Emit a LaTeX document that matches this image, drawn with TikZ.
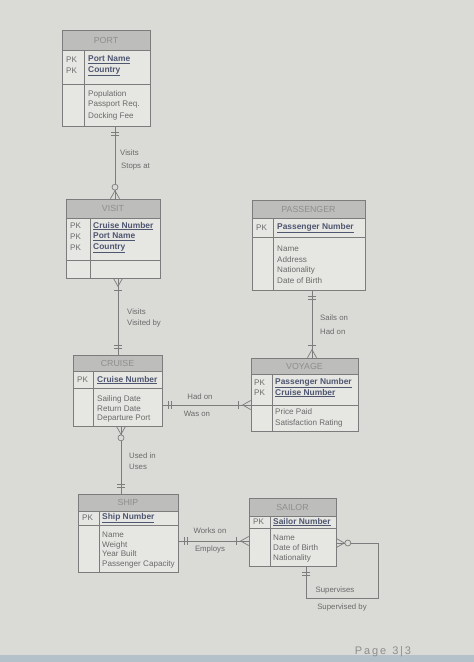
\documentclass[tikz,border=0pt]{standalone}
\usepackage{fontspec}
\setmainfont{Liberation Sans}
\usetikzlibrary{fit}
\definecolor{bg}{HTML}{DADAD7}
\definecolor{bodyfill}{HTML}{E6E6E3}
\definecolor{headfill}{HTML}{BDBDBB}
\definecolor{linecol}{HTML}{7C7C7C}
\definecolor{txtcol}{HTML}{6A6A6A}
\definecolor{pkcol}{HTML}{4E5670}
\definecolor{titlecol}{HTML}{8E8E8E}
\definecolor{strip}{HTML}{B4C0CA}
\tikzset{
  eline/.style={draw=linecol, line width=0.6pt},
  ebox/.style={draw=linecol, line width=0.7pt, inner sep=0pt},
  rel/.style={draw=linecol, line width=0.7pt},
  title/.style={text=titlecol, font=\fontsize{8.8}{10}\selectfont, inner sep=0pt},
  txt/.style={text=txtcol, font=\fontsize{8.1}{10}\selectfont, anchor=west, inner sep=0pt},
  pk/.style={text=pkcol, font=\fontsize{8.4}{10}\selectfont\bfseries, anchor=west, inner sep=0pt},
  lbl/.style={text=txtcol, font=\fontsize{7.8}{9}\selectfont, inner sep=0pt},
  dbar/.pic={\draw[rel] (6,-4)--(6,4) (9,-4)--(9,4);},
  mbar/.pic={\draw[rel] (12,-4)--(12,4);},
  crow/.pic={\draw[rel] (0,-4.5)--(8,0)--(0,4.5);},
  ocirc/.pic={\draw[rel,fill=bg] (11.5,0) circle[radius=3];},
}
\newcommand\ent[9]{%
  \fill[bodyfill] (#2,#3) rectangle (#4,#5);
  \fill[headfill] (#2,#3) rectangle (#4,#6);
  \draw[eline] (#2,#6) -- (#4,#6) (#2,#7) -- (#4,#7) (#8,#6) -- (#8,#5);
  \node[ebox, fit={(#2,#3) (#4,#5)}] (#1) {};
  \node[title] (#1-t) at ({(#2+#4)/2},{(#3+#6)/2}) {#9};
}
\begin{document}
\begin{tikzpicture}[x=1pt,y=-1pt]
\fill[bg] (0,0) rectangle (474,662);
\fill[strip] (0,655) rectangle (474,662);
\useasboundingbox (0,0) rectangle (474,662);

% PORT
\ent{port}{62}{30}{150}{126}{50}{84}{84}{PORT}
\node[txt] (port-k1) at (66,60) {PK};
\node[txt] (port-k2) at (66,71) {PK};
\node[pk] (port-p1) at (88,60) {\underline{Port Name}};
\node[pk] (port-p2) at (88,71) {\underline{Country}};
\node[txt] (port-a1) at (88,94) {Population};
\node[txt] (port-a2) at (88,105) {Passport Req.};
\node[txt] (port-a3) at (88,116) {Docking Fee};

% VISIT
\ent{visit}{66}{199}{160}{278}{218}{260}{90}{VISIT}
\node[txt] (visit-k1) at (70,226) {PK};
\node[txt] (visit-k2) at (70,237) {PK};
\node[txt] (visit-k3) at (70,248) {PK};
\node[pk] (visit-p1) at (93,226) {\underline{Cruise Number}};
\node[pk] (visit-p2) at (93,237) {\underline{Port Name}};
\node[pk] (visit-p3) at (93,248) {\underline{Country}};

% PASSENGER
\ent{pass}{252}{200}{365}{290}{218}{237}{273}{PASSENGER}
\node[txt] (pass-k1) at (256,228) {PK};
\node[pk] (pass-p1) at (277,228) {\underline{Passenger Number}};
\node[txt] (pass-a1) at (277,249) {Name};
\node[txt] (pass-a2) at (277,260) {Address};
\node[txt] (pass-a3) at (277,270) {Nationality};
\node[txt] (pass-a4) at (277,281) {Date of Birth};

% CRUISE
\ent{cruise}{73}{355}{162}{426}{371}{388}{93}{CRUISE}
\node[txt] (cruise-k1) at (77,380) {PK};
\node[pk] (cruise-p1) at (97,380) {\underline{Cruise Number}};
\node[txt] (cruise-a1) at (97,399) {Sailing Date};
\node[txt] (cruise-a2) at (97,409) {Return Date};
\node[txt] (cruise-a3) at (97,419) {Departure Port};

% VOYAGE
\ent{voyage}{251}{358}{358}{431}{374}{405}{272}{VOYAGE}
\node[txt] (voy-k1) at (254,383) {PK};
\node[txt] (voy-k2) at (254,393) {PK};
\node[pk] (voy-p1) at (275,383) {\underline{Passenger Number}};
\node[pk] (voy-p2) at (275,393) {\underline{Cruise Number}};
\node[txt] (voy-a1) at (275,412) {Price Paid};
\node[txt] (voy-a2) at (275,423) {Satisfaction Rating};

% SHIP
\ent{ship}{78}{494}{178}{572}{511}{525}{99}{SHIP}
\node[txt] (ship-k1) at (82,518) {PK};
\node[pk] (ship-p1) at (102,518) {\underline{Ship Number}};
\node[txt] (ship-a1) at (102,535) {Name};
\node[txt] (ship-a2) at (102,545) {Weight};
\node[txt] (ship-a3) at (102,554) {Year Built};
\node[txt] (ship-a4) at (102,564) {Passenger Capacity};

% SAILOR
\ent{sailor}{249}{498}{336}{566}{516}{528}{270}{SAILOR}
\node[txt] (sail-k1) at (253,522) {PK};
\node[pk] (sail-p1) at (273,522) {\underline{Sailor Number}};
\node[txt] (sail-a1) at (273,538) {Name};
\node[txt] (sail-a2) at (273,548) {Date of Birth};
\node[txt] (sail-a3) at (273,558) {Nationality};

% connector positions
\coordinate (c1) at (115,0);
\coordinate (c2) at (118,0);
\coordinate (c3) at (312,0);
\coordinate (h4) at (0,405);
\coordinate (c5) at (121,0);
\coordinate (h6) at (0,541);
\coordinate (h7) at (0,543);
\coordinate (c7) at (306,0);
\coordinate (s1) at (378,543);
\coordinate (s2) at (378,598);
\coordinate (s3) at (306,598);

% PORT - VISIT
\draw[rel] (port.south -| c1) -- (visit.north -| c1);
\pic[rotate=-90] at (port.south -| c1) {dbar};
\pic[rotate=90] at (visit.north -| c1) {crow};
\pic[rotate=90] at (visit.north -| c1) {ocirc};
\node[lbl, anchor=west] (l1a) at (120,153) {Visits};
\node[lbl, anchor=west] (l1b) at (121,167) {Stops at};

% VISIT - CRUISE
\draw[rel] (visit.south -| c2) -- (cruise.north -| c2);
\pic[rotate=-90] at (visit.south -| c2) {crow};
\pic[rotate=-90] at (visit.south -| c2) {mbar};
\pic[rotate=90] at (cruise.north -| c2) {dbar};
\node[lbl, anchor=west] (l2a) at (127,312) {Visits};
\node[lbl, anchor=west] (l2b) at (127,323) {Visited by};

% PASSENGER - VOYAGE
\draw[rel] (pass.south -| c3) -- (voyage.north -| c3);
\pic[rotate=-90] at (pass.south -| c3) {dbar};
\pic[rotate=90] at (voyage.north -| c3) {crow};
\pic[rotate=90] at (voyage.north -| c3) {mbar};
\node[lbl, anchor=west] (l3a) at (320,318) {Sails on};
\node[lbl, anchor=west] (l3b) at (320,332) {Had on};

% CRUISE - VOYAGE
\draw[rel] (cruise.east |- h4) -- (voyage.west |- h4);
\pic[rotate=0] at (cruise.east |- h4) {dbar};
\pic[rotate=180] at (voyage.west |- h4) {crow};
\pic[rotate=180] at (voyage.west |- h4) {mbar};
\node[lbl] (l4a) at (200,397) {Had on};
\node[lbl] (l4b) at (197,414) {Was on};

% CRUISE - SHIP
\draw[rel] (cruise.south -| c5) -- (ship.north -| c5);
\pic[rotate=-90] at (cruise.south -| c5) {crow};
\pic[rotate=-90] at (cruise.south -| c5) {ocirc};
\pic[rotate=90] at (ship.north -| c5) {dbar};
\node[lbl, anchor=west] (l5a) at (129,456) {Used in};
\node[lbl, anchor=west] (l5b) at (129,467) {Uses};

% SHIP - SAILOR
\draw[rel] (ship.east |- h6) -- (sailor.west |- h6);
\pic[rotate=0] at (ship.east |- h6) {dbar};
\pic[rotate=180] at (sailor.west |- h6) {crow};
\pic[rotate=180] at (sailor.west |- h6) {mbar};
\node[lbl] (l6a) at (210,531) {Works on};
\node[lbl] (l6b) at (210,549) {Employs};

% SAILOR self
\draw[rel] (sailor.east |- h7) -- (s1) -- (s2) -- (s3) -- (sailor.south -| c7);
\pic[rotate=0] at (sailor.east |- h7) {crow};
\pic[rotate=0] at (sailor.east |- h7) {ocirc};
\pic[rotate=-90] at (sailor.south -| c7) {dbar};
\node[lbl] (l7a) at (335,590) {Supervises};
\node[lbl] (l7b) at (342,607) {Supervised by};

\node[text=titlecol, font=\fontsize{11}{12}\selectfont, inner sep=0pt] (page) at (383,652) {P\,a\,g\,e\ \ 3\,|\,3};
\end{tikzpicture}
\end{document}
